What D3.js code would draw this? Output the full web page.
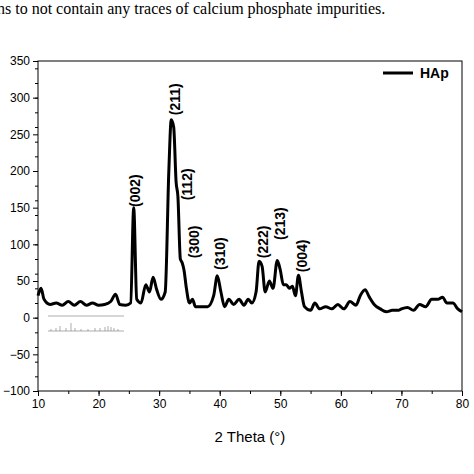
<!DOCTYPE html>
<html><head><meta charset="utf-8">
<script src="https://cdn.jsdelivr.net/npm/d3@7"></script>
<style>body{margin:0;background:#fff}</style></head>
<body><svg id="chart" width="474" height="474"></svg>
<script>
var theta = [10,10.5,11,12,13,14,15,16,17,18,19,20,21,22,22.8,23.5,24.5,25.3,25.8,26.3,27,27.8,28.4,29,29.6,30.3,31,31.6,32,32.4,32.8,33.1,33.5,33.8,34.1,34.5,35,35.5,36,37,38,39,39.6,40.2,40.8,41.5,42.3,43.2,44,44.7,45.3,46,46.5,47,47.5,48.2,48.8,49.5,50,50.5,51,51.5,52,52.5,53,53.5,54,55,55.7,56.5,57.5,58.5,59.5,60.5,61.5,62.5,63.2,64,64.7,65.5,66.5,67.5,68.5,69.5,70,71,72,73,74,75,76,76.8,77.5,78.5,79.3,80];
var intensity = [30,40,25,18,20,17,22,17,22,17,20,17,18,22,32,18,17,20,150,25,20,45,35,55,38,25,35,200,270,260,185,165,80,75,65,40,20,25,15,15,15,30,57,35,15,25,18,25,17,25,20,35,77,70,35,50,40,78,65,45,45,40,43,30,58,35,15,10,20,12,15,12,18,12,22,17,30,38,28,18,12,8,10,10,12,14,10,18,15,25,25,28,20,20,12,8];
var peakLabels = ["(002)","(211)","(112)","(300)","(310)","(222)","(213)","(004)"];
var labelPos = [26.8,33.4,35.5,36.5,40.9,47.9,50.8,54.4];
var labelBase = [151,276,160,81,65,81,106,62];
var xTicks = [10,20,30,40,50,60,70,80];
var yTicks = [-100,-50,0,50,100,150,200,250,300,350];

var svg = d3.select("#chart");
var x = d3.scaleLinear().domain([10,80]).range([38,462]);
var y = d3.scaleLinear().domain([-100,350]).range([391,61]);

svg.append("text").attr("x",-3).attr("y",14).attr("font-family","Liberation Serif").attr("font-size",16).text("ns to not contain any traces of calcium phosphate impurities.");

svg.append("rect").attr("x",38).attr("y",61).attr("width",424).attr("height",330).attr("fill","none").attr("stroke","#000");

var xa = svg.append("g").attr("transform","translate(0,391)")
  .call(d3.axisBottom(x).tickValues(xTicks).tickSize(5).tickSizeOuter(0));
xa.append("g").call(d3.axisBottom(x).ticks(14).tickSize(3).tickFormat(""));
var ya = svg.append("g").attr("transform","translate(38,0)")
  .call(d3.axisLeft(y).tickValues(yTicks).tickSize(5).tickSizeOuter(0));
ya.append("g").call(d3.axisLeft(y).ticks(18).tickSize(3).tickFormat(""));
svg.selectAll(".tick text").attr("font-family","Liberation Sans").attr("font-size",12).attr("fill","#000");
svg.selectAll(".domain").remove();

svg.append("text").attr("x",250).attr("y",442).attr("text-anchor","middle")
  .attr("font-family","Liberation Sans").attr("font-size",15).text("2 Theta (°)");

var line = d3.line().x(function(d){return x(d[0]);}).y(function(d){return y(d[1]);}).curve(d3.curveMonotoneX);
svg.append("path").datum(d3.zip(theta,intensity)).attr("d",line)
  .attr("fill","none").attr("stroke","#000").attr("stroke-width",3).attr("stroke-linejoin","round");

svg.selectAll(".pk").data(peakLabels).enter().append("text")
  .attr("transform",function(d,i){return "translate("+x(labelPos[i])+","+y(labelBase[i])+") rotate(-90)";})
  .attr("font-family","Liberation Sans").attr("font-weight","bold").attr("font-size",14).text(function(d){return d;});

svg.append("line").attr("x1",383).attr("x2",413).attr("y1",73).attr("y2",73).attr("stroke","#000").attr("stroke-width",3);
svg.append("text").attr("x",420).attr("y",78).attr("font-family","Liberation Sans").attr("font-weight","bold").attr("font-size",14).text("HAp");

// tiny reference inset
var inset = svg.append("g").attr("stroke","#777").attr("stroke-width",0.6);
inset.append("line").attr("x1",48).attr("x2",124).attr("y1",316).attr("y2",316);
inset.append("line").attr("x1",48).attr("x2",124).attr("y1",331).attr("y2",331);
var stick = [[51,2],[56,3],[60,5],[66,3],[71,8],[75,3],[81,2],[88,2],[95,3],[100,3],[105,4],[108,5],[111,4],[114,3],[118,2]];
stick.forEach(function(s){inset.append("line").attr("x1",s[0]).attr("x2",s[0]).attr("y1",331).attr("y2",331-s[1]);});
</script></body></html>
